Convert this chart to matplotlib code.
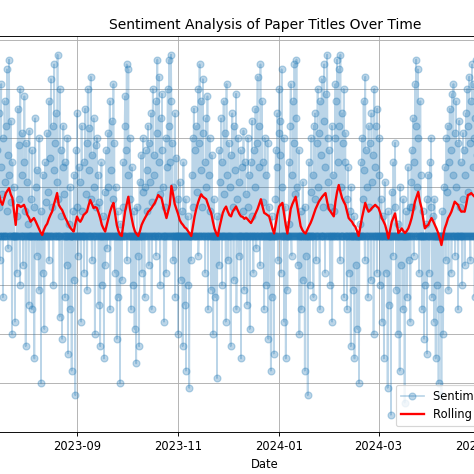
import numpy as np
import pandas as pd
import matplotlib
matplotlib.use('Agg')
import matplotlib.pyplot as plt
import matplotlib.dates as mdates

# sentiment of each title (x100), four titles per day from 2023-07-15
sentiment_pct = [
    35, 0, 0, 12, 50, 0, -10, 0, 28, 62, 0, 0, 17, -25, 40, 0, 0, 55, 22, 0, 45, 0, 10, 68, 0, 33, -5, 0, 72, 25, 0, 0, 47, 14, 0, -40, 30, 0, 0, 0,
    20, 0, -35, 0, 0, 0, -15, 8, 0, 52, 0, 37, 15, 0, -20, 60, 0, 0, 25, 42, 0, 0, -12, 30, 0, 57, 0, 10, -45, 0, 38, 0, 22, 0, 5, -28, 0, 43, 0, 0,
    15, 0, 0, -30, 35, 0, 0, 12, 0, -50, 0, 48, 20, 0, 0, -8, 27, 0, 0, 0, -22, 40, 0, 0, 10, -60, 0, 0, 0, -15, 25, 0, 0, -38, 0, 30, 0, 14, 0, 0,
    42, 0, 18, 0, -10, 55, 0, 0, 32, 64, 0, 0, 12, 45, 0, -20, 27, 70, 0, 0, 38, 50, 0, 0, 22, 74, 0, 15, 0, 0, -33, 60, 0, 8, 35, 0, -42, 28, 0, 45,
    0, 17, 0, -25, 30, 0, 0, -12, 0, 40, -48, 0, 0, 5, -30, 0, 20, 0, 0, -55, 0, 0, 10, 0, -18, 25, 0, 0, -65, 35, 0, 0, 50, 12, 0, -8, 0, 28, 0, 0,
    22, 0, -35, 45, 0, 10, 0, 0, 30, -15, 0, 0, 52, 17, 0, 38, -22, 0, 60, 0, 0, 27, 44, 0, 0, 65, 15, 0, -10, 33, 0, 0, 48, 20, 0, -40, 0, 37, 12, 0,
    40, 0, 0, 25, -28, 0, 14, 0, -45, 0, 0, 30, 0, -20, 8, 0, 0, -50, 0, 18, -12, 0, 0, 35, -5, 0, 0, 42, 20, 0, 0, 55, -30, 0, 27, 0, 0, 47, 15, 0,
    62, 0, 38, 0, -15, 20, 0, 0, -42, 0, 10, 0, -25, 0, 0, 0, -60, 5, 0, 0, -18, 0, 0, 30, 12, 0, 0, 45, 57, 0, 35, 0, 70, -10, 0, 25, 68, 0, 0, 40,
    15, 0, 0, -30, 28, 0, 0, -20, 0, 10, 0, -38, 0, 0, 0, -52, 12, 0, 0, -8, 0, 0, -45, 22, 0, 0, 0, 33, -15, 0, 0, 18, 40, 0, 0, -25, 20, 0, 0, 35,
    27, 0, 10, 45, 0, -12, 0, 38, 22, 0, 0, 50, -30, 0, 14, 60, 0, 0, 33, 25, 0, 0, 55, -8, 0, 42, 72, 0, 0, 30, 65, 0, 17, -20, 48, 0, 0, 58, 35, 0,
    20, 0, -35, 0, 12, 0, 40, -15, 0, 0, 28, 60, 0, 45, 0, 72, 30, 0, 0, 74, 55, 0, 38, 0, -10, 20, 0, 0, 50, -25, 0, 0, 32, 0, 0, 15, -40, 0, 0, 0,
    22, 0, 0, -18, 0, 10, 0, -45, 0, 30, 0, 0, -28, 0, 15, -55, 0, 0, 0, 8, -20, 0, 0, -62, 0, 0, 0, -10, 0, 25, 0, 40, 0, 12, 52, 0, 0, 35, 0, 0,
    45, 0, 18, 0, 60, -8, 0, 38, 70, 0, 0, 27, 55, 0, 12, 0, 64, 42, 0, 0, 30, -15, 0, 48, 20, 0, 0, 57, -30, 0, 25, 0, 40, 10, 0, 0, -22, 33, 0, 0,
    0, -40, 0, 15, 0, 0, -25, 0, 0, 0, -58, 8, 0, 0, -12, 0, 35, 0, 22, 0, 48, 0, -20, 30, 0, 0, 55, 17, 0, 0, 42, -35, 0, 62, 0, 25, -10, 0, 38, 0,
    0, 20, 0, -45, 33, 0, 0, 50, 12, 0, -18, 0, 45, 27, 0, 0, 58, -30, 0, 15, 0, 40, 0, -8, 22, 0, 0, 35, -50, 0, 0, 28, 10, 0, 43, 0, -22, 0, 30, 0,
    17, 0, 0, -28, 40, 0, 12, 25, 0, -38, 0, 0, 30, 0, 8, 47, 0, 0, -15, 35, 0, 0, 20, 52, 0, -5, 0, 38, 65, 0, 0, 28, 45, 0, -12, 70, 0, 0, 55, 0,
    30, 0, 14, 0, -30, 40, 0, 0, 25, -20, 0, 0, 38, 0, -42, 0, 12, 0, 0, 0, -55, 0, 8, 0, -25, 0, 0, -48, 0, 0, 0, 15, 35, 0, 0, 28, 50, -10, 0, 42,
    60, 0, 33, 47, 0, -15, 68, 0, 20, 0, 0, 40, -35, 0, 0, 12, -50, 0, 0, 0, -22, 0, 0, 5, 30, 0, 0, 45, 62, 0, -8, 25, 0, 0, 55, 38, 0, 70, 0, 17,
    48, 0, 72, 0, 20, -12, 0, 0, 35, -40, 0, 0, 10, 0, -30, 0, 0, 22, -18, 0, 0, 0, -55, 12, 0, 0, -8, 0, 0, -65, 0, 0, 30, 0, -20, 0, 18, 0, 40, 0,
    0, 25, 0, -25, 45, 0, 15, 50, 0, -10, 0, 0, 38, 60, 0, 20, 42, 0, -30, 55, 0, 0, 33, 64, 0, 12, 0, 0, 47, 70, 0, -15, 28, 0, 58, 0, 74, 40, 0, 22,
    0, 35, 0, -20, 12, 0, 0, 45, -35, 0, 25, 0, 10, 0, 0, 40, 62, 0, 55, 0, 72, 30, 0, 0, 68, 45, 0, -10, 74, 0, 20, 0, 0, 50, 38, 0, 60, -25, 0, 30,
    42, 0, 0, 15, -30, 0, 28, 0, -15, 0, 10, 0, 0, -45, 20, 0, 0, 0, -22, 0, 8, 0, -50, 0, 0, 0, -12, 0, 0, -38, 0, 0, 0, -60, 0, 5, 0, 0, 30, 0,
    40, 0, 15, 0, 55, 27, 0, -10, 65, 0, 0, 35, 0, 20, -25, 0, 45, 0, 12, 38, 0, -18, 0, 50, 22, 0, 0, 33, -40, 0, 60, 0, 28, 45, 0, 0, -15, 52, 0, 0,
    25, 0, 40, 0, -20, 0, 0, 15, 0, -35, 8, 0, 0, -50, 0, 22, 0, 0, -15, 0, 0, 0, -62, 0, 10, 0, -28, 0, 0, 0, -73, 0, 18, 0, 0, -8, 30, 0, 0, 12,
    38, 0, 0, -22, 0, 0, -40, 5, 0, 0, 0, -55, 20, 0, 0, -12, 0, 0, -30, 0, 15, 0, 0, -68, 0, 0, 10, 0, 0, -25, 0, 0, 28, 0, -10, 12, 0, -35, 0, 22,
    35, 0, 12, 48, 0, -8, 30, 0, 62, 0, 45, 72, 0, 20, 0, 68, 40, 0, -15, 0, 0, 55, 25, 0, 0, -30, 0, 10, 0, 0, -42, 0, 0, -20, 5, 0, 0, -48, 15, 0,
    25, 0, -15, 0, 30, 0, 12, 40, 0, -25, 0, 8, 0, 0, -35, 15, 0, 0, -50, 0, 0, 0, -20, 0, 0, -60, 0, 0, -30, 0, 0, 0, -65, 0, 10, 0, -40, 0, 20, 0,
    28, 0, -10, 0, 40, 0, 18, 45, 0, -22, 0, 30, 52, 0, 0, 35, -15, 0, 58, 0, 25, 62, 0, 0, 42, -8, 0, 55, 20, 0, 0, 38, -30, 0, 0, 47, 12, 0, 0, 0,
    30, 0, -20, 0, 42, 15, 0, 35, -12, 0, 25, 50, 0, 0, 60, 18, 0, 45, 0, 65, 38, 0, -10, 55, 0, 0, 70, 28, 0, 62, 0, 40, -25, 0, 48, 0, 72, 0, 33, 0,
]

# daily rolling average, from 2023-07-15
rolling_avg = [
    0.15, 0.167, 0.14, 0.127, 0.15, 0.174, 0.185, 0.195, 0.17, 0.155,
    0.10, 0.045, 0.127, 0.125, 0.118, 0.122, 0.127, 0.11, 0.086, 0.075,
    0.058, 0.066, 0.073, 0.06, 0.045, 0.03, 0.015, 0.004, 0.025, 0.04,
    0.05, 0.07, 0.086, 0.10, 0.127, 0.15, 0.175, 0.127, 0.115, 0.106,
    0.09, 0.073, 0.06, 0.045, 0.033, 0.025, 0.018, 0.05, 0.079, 0.065,
    0.058, 0.07, 0.086, 0.092, 0.099, 0.125, 0.147, 0.13, 0.114, 0.118,
    0.114, 0.095, 0.073, 0.045, 0.03, 0.018, 0.045, 0.073, 0.10, 0.12,
    0.135, 0.09, 0.045, 0.02, 0.005, 0.0, 0.05, 0.099, 0.13, 0.16,
    0.11, 0.073, 0.04, 0.018, 0.008, 0.0, 0.02, 0.045, 0.06, 0.073,
    0.085, 0.099, 0.105, 0.114, 0.125, 0.135, 0.15, 0.167, 0.16, 0.155,
    0.125, 0.099, 0.073, 0.10, 0.127, 0.204, 0.17, 0.13, 0.11, 0.09,
    0.065, 0.053, 0.045, 0.035, 0.03, 0.02, 0.01, 0.0, 0.04, 0.08,
    0.11, 0.135, 0.155, 0.17, 0.16, 0.155, 0.15, 0.13, 0.11, 0.094,
    0.06, 0.03, 0.012, 0.0, 0.035, 0.065, 0.094, 0.11, 0.12, 0.10,
    0.085, 0.08, 0.10, 0.11, 0.12, 0.105, 0.09, 0.08, 0.078, 0.07,
    0.075, 0.068, 0.06, 0.053, 0.065, 0.08, 0.094, 0.11, 0.13, 0.15,
    0.12, 0.094, 0.09, 0.085, 0.08, 0.055, 0.03, 0.01, 0.05, 0.09,
    0.12, 0.128, 0.135, 0.09, 0.045, 0.01, 0.06, 0.11, 0.13, 0.145,
    0.16, 0.12, 0.08, 0.04, 0.025, 0.015, 0.01, 0.025, 0.04, 0.053,
    0.07, 0.09, 0.11, 0.125, 0.14, 0.15, 0.16, 0.168, 0.175, 0.14,
    0.11, 0.10, 0.09, 0.08, 0.14, 0.18, 0.208, 0.18, 0.155, 0.14,
    0.127, 0.10, 0.073, 0.065, 0.058, 0.045, 0.038, 0.02, 0.0, 0.035,
    0.073, 0.105, 0.135, 0.115, 0.099, 0.105, 0.114, 0.12, 0.127, 0.12,
    0.114, 0.095, 0.073, 0.06, 0.045, 0.02, -0.01, 0.025, 0.058, 0.075,
    0.092, 0.05, 0.012, 0.02, 0.031, 0.02, 0.012, 0.02, 0.031, 0.05,
    0.073, 0.105, 0.14, 0.16, 0.18, 0.14, 0.114, 0.07, 0.031, 0.04,
    0.045, 0.06, 0.073, 0.06, 0.045, 0.03, 0.012, -0.01, -0.037, 0.0,
    0.031, 0.05, 0.073, 0.085, 0.099, 0.12, 0.14, 0.133, 0.127, 0.11,
    0.099, 0.1, 0.099, 0.13, 0.167, 0.17, 0.175, 0.167, 0.16, 0.165,
    0.17,
]

sentiment = np.array(sentiment_pct) / 100.0
dates = pd.date_range('2023-07-15', periods=len(sentiment), freq='6h')
roll_dates = pd.date_range('2023-07-15', periods=len(rolling_avg), freq='D')

W = 474
fig = plt.figure(figsize=(5.7, 5.7), dpi=W / 5.7)
# the picture is a crop: the axes run past both side edges
ax = fig.add_axes([-30 / W, 1 - 432 / W, 590 / W, 396 / W])

ax.plot(dates, sentiment, marker='o', alpha=0.3, label='Sentiment Score')
ax.plot(roll_dates, rolling_avg, color='red', linewidth=2, label='Rolling Average')

sep1 = mdates.date2num(pd.Timestamp('2023-09-01'))
px_day = 1.6566
ax.set_xlim(sep1 - 107 / px_day, sep1 + (560 - 77) / px_day)
ax.set_ylim(-0.8, 0.816)
ax.xaxis.set_major_locator(mdates.MonthLocator(bymonth=[1, 3, 5, 7, 9, 11]))
ax.xaxis.set_major_formatter(mdates.DateFormatter('%Y-%m'))

ax.set_title('Sentiment Analysis of Paper Titles Over Time')
ax.set_xlabel('Date')
ax.set_ylabel('Sentiment Score')
ax.grid(True)
ax.legend(loc='lower left', bbox_to_anchor=(396 / W, 1 - 426 / W),
          bbox_transform=fig.transFigure, borderaxespad=0)

fig.savefig('out.png')
